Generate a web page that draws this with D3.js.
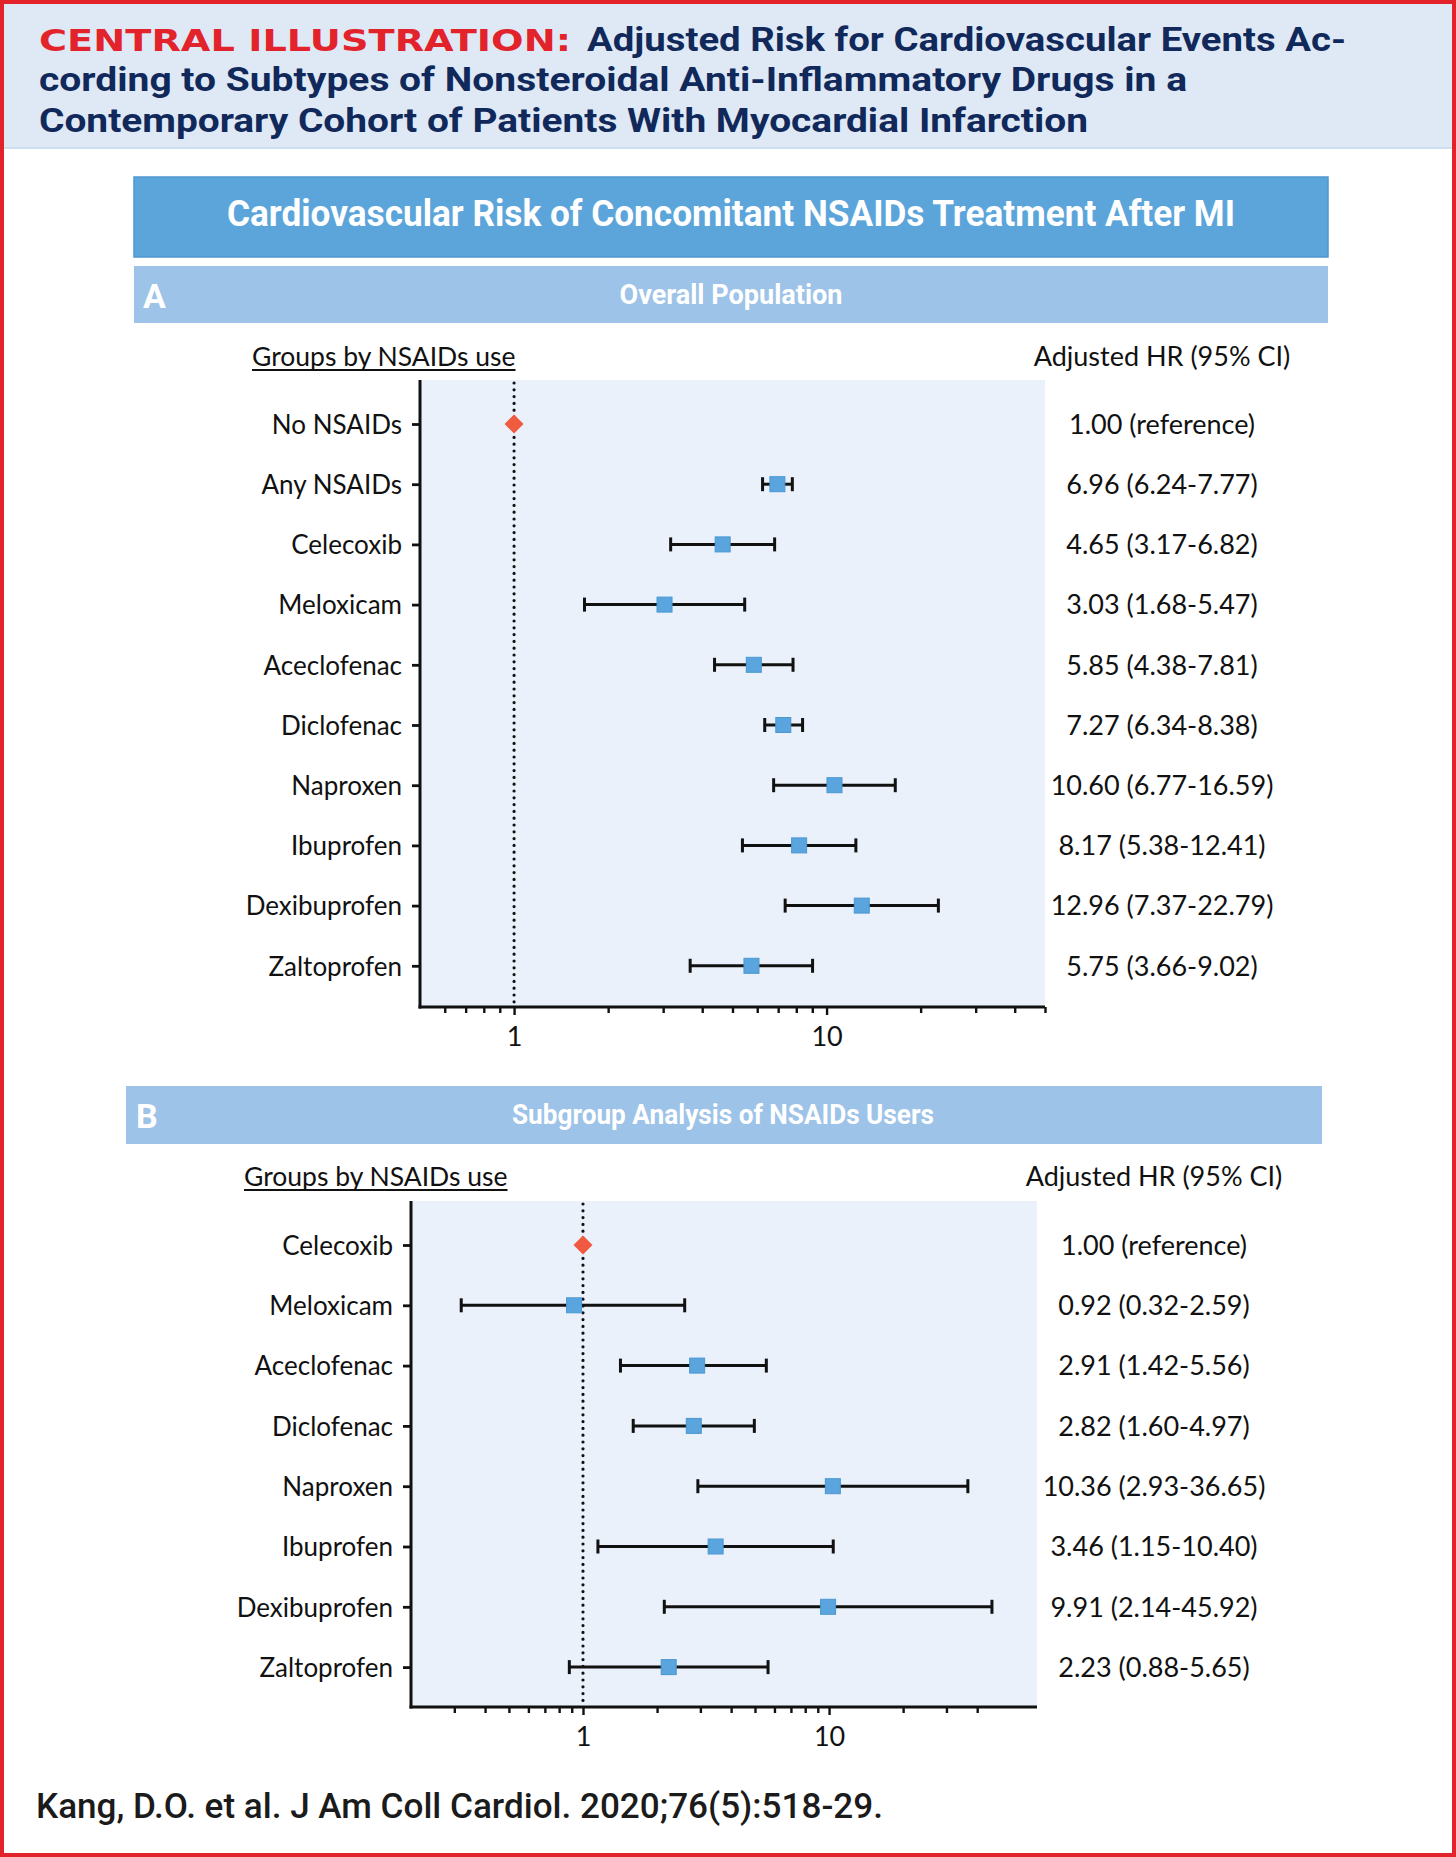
<!DOCTYPE html>
<html>
<head>
<meta charset="utf-8">
<script src="https://cdn.jsdelivr.net/npm/d3@7"></script>
<style>
  body { margin: 0; background: #fff; }
  svg { display: block; }
</style>
</head>
<body>
<svg width="1456" height="1857"></svg>
<script>
// ---- data ----
let groupsA = ["No NSAIDs", "Any NSAIDs", "Celecoxib", "Meloxicam", "Aceclofenac",
               "Diclofenac", "Naproxen", "Ibuprofen", "Dexibuprofen", "Zaltoprofen"];
let hrA   = [1.00, 6.96, 4.65, 3.03, 5.85, 7.27, 10.60, 8.17, 12.96, 5.75];
let lowA  = [null, 6.24, 3.17, 1.68, 4.38, 6.34, 6.77, 5.38, 7.37, 3.66];
let highA = [null, 7.77, 6.82, 5.47, 7.81, 8.38, 16.59, 12.41, 22.79, 9.02];

let groupsB = ["Celecoxib", "Meloxicam", "Aceclofenac", "Diclofenac",
               "Naproxen", "Ibuprofen", "Dexibuprofen", "Zaltoprofen"];
let hrB   = [1.00, 0.92, 2.91, 2.82, 10.36, 3.46, 9.91, 2.23];
let lowB  = [null, 0.32, 1.42, 1.60, 2.93, 1.15, 2.14, 0.88];
let highB = [null, 2.59, 5.56, 4.97, 36.65, 10.40, 45.92, 5.65];

let ticksA = [0.6, 0.7, 0.8, 0.9, 1, 2, 3, 4, 5, 6, 7, 8, 9, 10, 20, 30, 40, 50];
let ticksB = [0.3, 0.4, 0.5, 0.6, 0.7, 0.8, 0.9, 1, 2, 3, 4, 5, 6, 7, 8, 9, 10, 20, 30, 40];
let tickLabels = [1, 10];

// ---- colours / fonts ----
let red = "#e3232b";
let navy = "#11295a";
let txtFont = "Lato, 'Open Sans', sans-serif";
let boldFont = "Roboto, 'DejaVu Sans', sans-serif";

let svg = d3.select("svg");

// header band
svg.append("rect").attr("x", 0).attr("y", 0).attr("width", 1456).attr("height", 148)
    .attr("fill", "#dfe9f6");
svg.append("line").attr("x1", 0).attr("x2", 1456).attr("y1", 148).attr("y2", 148)
    .attr("stroke", "#cfdff2").attr("stroke-width", 2);

function texte(x, y, s, opts) {
    let t = svg.append("text")
        .attr("x", x).attr("y", y)
        .style("font-family", opts.font || txtFont)
        .style("font-size", opts.size + "px")
        .style("font-weight", opts.weight || 400)
        .attr("fill", opts.fill || "#111")
        .attr("text-anchor", opts.anchor || "start")
        .text(s);
    if (opts.len) t.attr("textLength", opts.len).attr("lengthAdjust", "spacingAndGlyphs");
    return t;
}

// header title
texte(39, 51, "CENTRAL ILLUSTRATION:", {font: "'DejaVu Sans', sans-serif", size: 31, weight: 700, fill: red, len: 532});
texte(587, 51, "Adjusted Risk for Cardiovascular Events Ac-", {font: boldFont, size: 33, weight: 700, fill: navy, len: 759});
texte(39, 91, "cording to Subtypes of Nonsteroidal Anti-Inflammatory Drugs in a", {font: boldFont, size: 33, weight: 700, fill: navy, len: 1148});
texte(39, 132, "Contemporary Cohort of Patients With Myocardial Infarction", {font: boldFont, size: 33, weight: 700, fill: navy, len: 1049});

// main blue bar
svg.append("rect").attr("x", 134).attr("y", 177).attr("width", 1194).attr("height", 80)
    .attr("fill", "#5ca5db").attr("stroke", "#4f97d0").attr("stroke-width", 1.5);
texte(731, 226, "Cardiovascular Risk of Concomitant NSAIDs Treatment After MI",
    {font: boldFont, size: 37, weight: 700, fill: "#fff", anchor: "middle", len: 1008});

// panel bars
svg.append("rect").attr("x", 134).attr("y", 266).attr("width", 1194).attr("height", 57)
    .attr("fill", "#9dc3e8");
texte(143, 308, "A", {font: boldFont, size: 34, weight: 700, fill: "#fff"});
texte(731, 304, "Overall Population", {font: boldFont, size: 27, weight: 700, fill: "#fff", anchor: "middle", len: 223});

svg.append("rect").attr("x", 126).attr("y", 1086).attr("width", 1196).attr("height", 58)
    .attr("fill", "#9dc3e8");
texte(136, 1128, "B", {font: boldFont, size: 34, weight: 700, fill: "#fff"});
texte(723, 1124, "Subgroup Analysis of NSAIDs Users", {font: boldFont, size: 27, weight: 700, fill: "#fff", anchor: "middle", len: 422});

// footer
texte(36, 1818, "Kang, D.O. et al. J Am Coll Cardiol. 2020;76(5):518-29.",
    {font: boldFont, size: 35, weight: 500, fill: "#1b1b1b", len: 847});

// ---- forest panels ----
function valeurTexte(h, lo, hi) {
    if (lo == null) return h.toFixed(2) + " (reference)";
    return h.toFixed(2) + " (" + lo.toFixed(2) + "-" + hi.toFixed(2) + ")";
}

function drawPanel(p) {
    let x = d3.scaleLog().domain(p.domain).range([p.left, p.right]);
    let y = d3.scalePoint().domain(p.groups)
        .range([p.top + 44, p.top + 44 + (p.groups.length - 1) * p.step]);

    let g = svg.append("g");

    g.append("rect")
        .attr("x", p.left).attr("y", p.top)
        .attr("width", p.right - p.left).attr("height", p.axisY - p.top)
        .attr("fill", "#eaf1fa");

    // reference line at HR = 1
    g.append("line")
        .attr("x1", x(1)).attr("x2", x(1))
        .attr("y1", p.top + 3).attr("y2", p.axisY - 4)
        .attr("stroke", "#111").attr("stroke-width", 3.2)
        .attr("stroke-linecap", "round")
        .attr("stroke-dasharray", "0 6.8");

    // x axis
    let ax = g.append("g")
        .attr("transform", "translate(0," + p.axisY + ")")
        .call(d3.axisBottom(x).tickValues(p.ticks)
            .tickFormat(d => tickLabels.includes(d) ? d3.format("d")(d) : "")
            .tickSize(5).tickSizeOuter(0));
    ax.select(".domain").remove();
    ax.append("line").attr("x1", p.left - 1.5).attr("x2", p.right).attr("y1", 0).attr("y2", 0)
        .attr("stroke", "#111").attr("stroke-width", 3);
    ax.selectAll(".tick line").attr("stroke", "#111").attr("stroke-width", 2.4)
        .attr("y2", d => tickLabels.includes(d) ? 8 : 6);
    ax.selectAll(".tick text")
        .attr("y", 39).attr("dy", null)
        .style("font-family", txtFont).style("font-size", "27px").attr("fill", "#111");

    // y axis
    let ay = g.append("g")
        .attr("transform", "translate(" + p.left + ",0)")
        .call(d3.axisLeft(y).tickSize(8).tickPadding(10));
    ay.select(".domain").remove();
    ay.append("line").attr("x1", 0).attr("x2", 0).attr("y1", p.top).attr("y2", p.axisY + 1.5)
        .attr("stroke", "#111").attr("stroke-width", 3);
    ay.selectAll(".tick line").attr("stroke", "#111").attr("stroke-width", 2.8);
    ay.selectAll(".tick text")
        .attr("dy", "0.36em")
        .style("font-family", txtFont).style("font-size", "26px").attr("fill", "#111");

    let rows = p.groups.map((n, i) => ({nom: n, hr: p.hr[i], lo: p.low[i], hi: p.high[i]}));
    let ci = rows.filter(d => d.lo != null);

    // confidence intervals
    let ciG = g.selectAll("g.ci").data(ci).enter().append("g").attr("class", "ci")
        .attr("stroke", "#111").attr("stroke-width", 3);
    ciG.append("line")
        .attr("x1", d => x(d.lo)).attr("x2", d => x(d.hi))
        .attr("y1", d => y(d.nom)).attr("y2", d => y(d.nom));
    ciG.append("line")
        .attr("x1", d => x(d.lo)).attr("x2", d => x(d.lo))
        .attr("y1", d => y(d.nom) - 7).attr("y2", d => y(d.nom) + 7);
    ciG.append("line")
        .attr("x1", d => x(d.hi)).attr("x2", d => x(d.hi))
        .attr("y1", d => y(d.nom) - 7).attr("y2", d => y(d.nom) + 7);

    // squares
    g.selectAll("rect.pt").data(ci).enter().append("rect").attr("class", "pt")
        .attr("x", d => x(d.hr) - 7.5).attr("y", d => y(d.nom) - 7.5)
        .attr("width", 15).attr("height", 15)
        .attr("fill", "#5aa5dd").attr("stroke", "#4a97d2").attr("stroke-width", 1);

    // reference diamond
    g.selectAll("path.ref").data(rows.filter(d => d.lo == null)).enter().append("path")
        .attr("class", "ref")
        .attr("d", d3.symbol().type(d3.symbolSquare).size(180))
        .attr("transform", d => "translate(" + x(d.hr) + "," + y(d.nom) + ") rotate(45)")
        .attr("fill", "#f05a40");

    // headers
    let gh = texte(p.groupX, p.headY, "Groups by NSAIDs use", {size: 26.5});
    let w = gh.node().getComputedTextLength();
    svg.append("line").attr("x1", p.groupX).attr("x2", p.groupX + w)
        .attr("y1", p.headY + 4).attr("y2", p.headY + 4)
        .attr("stroke", "#111").attr("stroke-width", 1.8);
    texte(p.valX, p.headY, "Adjusted HR (95% CI)", {size: 27, anchor: "middle"});

    // values column
    svg.append("g").selectAll("text").data(rows).enter().append("text")
        .attr("x", p.valX).attr("y", d => y(d.nom)).attr("dy", "0.36em")
        .attr("text-anchor", "middle")
        .style("font-family", txtFont).style("font-size", "27px").attr("fill", "#111")
        .text(d => valeurTexte(d.hr, d.lo, d.hi));
}

drawPanel({
    groups: groupsA, hr: hrA, low: lowA, high: highA,
    domain: [0.5, 50], ticks: ticksA,
    left: 420, right: 1045, top: 380, axisY: 1007, step: 60.2,
    groupX: 252, headY: 366, valX: 1162
});

drawPanel({
    groups: groupsB, hr: hrB, low: lowB, high: highB,
    domain: [0.2, 70], ticks: ticksB,
    left: 411, right: 1037, top: 1201, axisY: 1707, step: 60.3,
    groupX: 244, headY: 1186, valX: 1154
});

// red outer frame
svg.append("rect").attr("x", 2).attr("y", 2).attr("width", 1452).attr("height", 1853)
    .attr("fill", "none").attr("stroke", red).attr("stroke-width", 4);
</script>
</body>
</html>
